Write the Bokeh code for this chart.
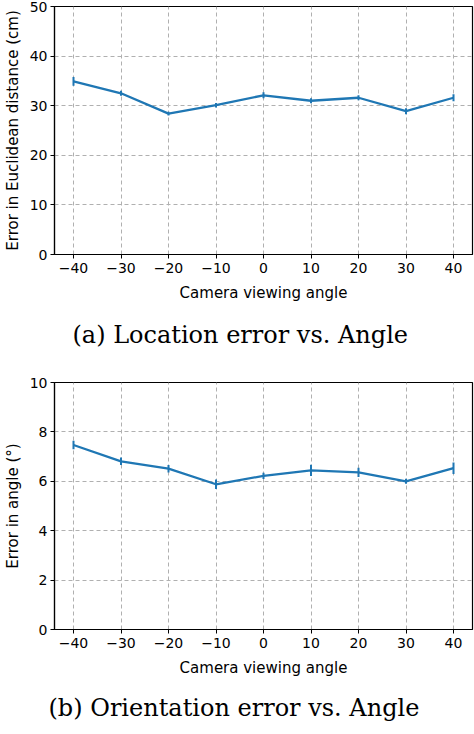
from bokeh.plotting import figure
from bokeh.layouts import column
from bokeh.models import Title
from bokeh.embed import file_html
from bokeh.resources import INLINE

# camera viewing angle (deg)
angles = [-40, -30, -20, -10, 0, 10, 20, 30, 40]

# location error (cm) and its spread
loc_err = [34.9, 32.5, 28.4, 30.1, 32.1, 31.0, 31.6, 28.9, 31.6]
loc_std = [0.9, 0.5, 0.4, 0.45, 0.6, 0.5, 0.5, 0.6, 0.7]

# orientation error (deg) and its spread
ori_err = [7.47, 6.81, 6.51, 5.88, 6.22, 6.44, 6.36, 6.00, 6.53]
ori_std = [0.17, 0.15, 0.15, 0.19, 0.13, 0.23, 0.19, 0.10, 0.23]

x_ticks = [-40, -30, -20, -10, 0, 10, 20, 30, 40]
x_tick_labels = ["\u221240", "\u221230", "\u221220", "\u221210", "0", "10", "20", "30", "40"]
loc_ticks = [0, 10, 20, 30, 40, 50]
ori_ticks = [0, 2, 4, 6, 8, 10]

BLUE = "#1f77b4"


def panel(y, err, ymax, yticks, ylabel, caption, h, top, bottom, cap_offset, cap_standoff):
    p = figure(width=474, height=h, x_range=(-44, 44), y_range=(0, ymax),
               output_backend="svg", toolbar_location=None,
               min_border_top=top, min_border_bottom=bottom, min_border_right=2,
               min_border_left=0)
    p.background_fill_color = "white"
    p.outline_line_color = "black"
    p.outline_line_width = 1.2
    p.outline_line_alpha = 1.0

    p.xaxis.ticker = x_ticks
    p.xaxis.major_label_overrides = dict(zip(x_ticks, x_tick_labels))
    p.yaxis.ticker = yticks
    p.xaxis.axis_label = "Camera viewing angle"
    p.yaxis.axis_label = ylabel

    for ax in p.axis:
        ax.minor_tick_line_color = None
        ax.major_tick_in = 0
        ax.major_tick_out = 4
        ax.major_tick_line_color = "black"
        ax.axis_line_color = "black"
        ax.axis_line_width = 1.2
        ax.major_label_text_font = "DejaVu Sans"
        ax.major_label_text_font_size = "14px"
        ax.major_label_text_color = "black"
        ax.major_label_standoff = 4
        ax.axis_label_text_font = "DejaVu Sans"
        ax.axis_label_text_font_size = "15px"
        ax.axis_label_text_font_style = "normal"
        ax.axis_label_text_color = "black"
        ax.axis_label_standoff = 8
    p.yaxis.major_label_standoff = 3
    p.yaxis.axis_label_standoff = 5

    p.xgrid.ticker = x_ticks
    p.ygrid.ticker = yticks
    p.grid.grid_line_color = "#b0b0b0"
    p.grid.grid_line_dash = "4 3"
    p.grid.grid_line_width = 1

    lo = [v - e for v, e in zip(y, err)]
    hi = [v + e for v, e in zip(y, err)]
    p.segment(x0=angles, y0=lo, x1=angles, y1=hi, line_color=BLUE, line_width=2)
    p.line(angles, y, line_color=BLUE, line_width=2.3)

    p.add_layout(Title(text=caption, align="left", offset=cap_offset,
                       text_font="DejaVu Serif", text_font_size="24px",
                       text_font_style="normal", text_color="black",
                       standoff=cap_standoff), "below")
    return p


p1 = panel(loc_err, loc_std, 50, loc_ticks, "Error in Euclidean distance (cm)",
           "(a) Location error vs. Angle", 362, 6, 2, 18, 28)
p2 = panel(ori_err, ori_std, 10, ori_ticks, "Error in angle (\u00b0)",
           "(b) Orientation error vs. Angle", 372, 20, 0, -6, 25)

p = column(p1, p2)
open("out.html", "w").write(file_html(p, INLINE))
